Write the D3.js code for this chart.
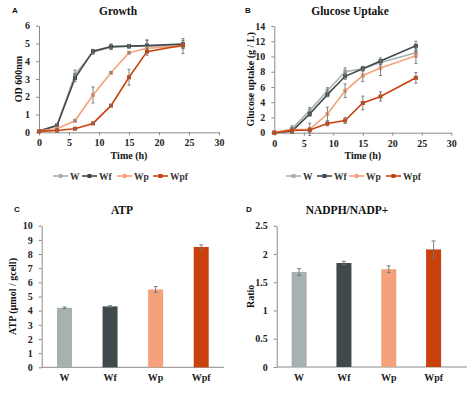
<!DOCTYPE html>
<html>
<head>
<meta charset="utf-8">
<script src="https://cdn.jsdelivr.net/npm/d3@7"></script>
<style>
  body { margin: 0; background: #fff; }
  text { font-family: "Liberation Serif", "Times New Roman", serif; font-weight: bold; }
</style>
</head>
<body>
<script>
var STRAINS = ['W', 'Wf', 'Wp', 'Wpf']
var COLORS = ['#a7b1b1', '#41494d', '#f5a27c', '#c9420e']

var TIME = [0, 3, 6, 9, 12, 15, 18, 24]
var X_TICKS = [0, 5, 10, 15, 20, 25, 30]

// growth, OD 600nm
var GROWTH_W   = [0.07, 0.38, 3.25, 4.50, 4.80, 4.84, 4.87, 4.85]
var GROWTH_WF  = [0.07, 0.38, 3.05, 4.57, 4.82, 4.85, 4.88, 4.97]
var GROWTH_WP  = [0.07, 0.20, 0.65, 2.10, 3.35, 4.48, 4.73, 4.85]
var GROWTH_WPF = [0.05, 0.10, 0.20, 0.50, 1.50, 3.10, 4.54, 4.90]
var GROWTH_ERR_W   = [0.02, 0.05, 0.25, 0.10, 0.15, 0.10, 0.33, 0.42]
var GROWTH_ERR_WF  = [0.02, 0.05, 0.20, 0.10, 0.15, 0.10, 0.30, 0.20]
var GROWTH_ERR_WP  = [0.02, 0.03, 0.05, 0.45, 0.05, 0.05, 0.10, 0.15]
var GROWTH_ERR_WPF = [0.02, 0.03, 0.03, 0.05, 0.05, 0.45, 0.20, 0.15]
var GROWTH_TICKS = [0, 1, 2, 3, 4, 5, 6]

// glucose uptake, g / L
var GLU_W   = [0, 0.50, 2.90, 5.50, 8.00, 8.40, 9.20, 10.50]
var GLU_WF  = [0, 0.20, 2.45, 5.00, 7.40, 8.40, 9.40, 11.40]
var GLU_WP  = [0, 0.40, 0.45, 2.45, 5.50, 7.50, 8.50, 10.10]
var GLU_WPF = [0, 0.30, 0.35, 1.20, 1.60, 3.90, 4.75, 7.20]
var GLU_ERR_W   = [0.05, 0.40, 0.40, 0.40, 0.50, 0.30, 0.30, 0.60]
var GLU_ERR_WF  = [0.05, 0.30, 0.30, 0.30, 0.40, 0.30, 0.40, 0.60]
var GLU_ERR_WP  = [0.05, 0.30, 0.80, 0.90, 0.90, 0.80, 1.00, 1.00]
var GLU_ERR_WPF = [0.05, 0.30, 0.30, 0.30, 0.40, 0.90, 0.60, 0.70]
var GLU_TICKS = [0, 2, 4, 6, 8, 10, 12, 14]

// bars
var ATP = [4.2, 4.3, 5.5, 8.5]
var ATP_ERR = [0.06, 0.05, 0.2, 0.15]
var ATP_TICKS = [0, 1, 2, 3, 4, 5, 6, 7, 8, 9, 10]
var RATIO = [1.68, 1.84, 1.73, 2.08]
var RATIO_ERR = [0.06, 0.03, 0.06, 0.15]
var RATIO_TICKS = [0, 0.5, 1, 1.5, 2, 2.5]

var AXIS_COLOR = '#8a8a8a'
var ERR_COLOR = '#6f7475'
var FONT = '"Liberation Serif", "Times New Roman", serif'

var svg = d3.select('body').append('svg')
  .attr('width', 474).attr('height', 397)

function style_axis(g){
  g.selectAll('path, line').attr('stroke', AXIS_COLOR).attr('stroke-width', 1)
  g.selectAll('text').attr('fill', '#222').attr('font-size', '10px')
    .attr('font-family', FONT).attr('font-weight', 'bold')
}

function label(x, y, txt, size, rotate){
  var t = svg.append('text').attr('x', x).attr('y', y)
    .attr('text-anchor', 'middle').attr('font-size', size).attr('fill', '#111').text(txt)
  if (rotate) t.attr('transform', 'rotate(-90,' + x + ',' + y + ')')
  return t
}

function letter(x, y, txt){
  svg.append('text').attr('x', x).attr('y', y).attr('font-size', '8px')
    .style('font-family', '"Liberation Sans", Arial, sans-serif').attr('fill', '#111').text(txt)
}

function line_panel(opt){
  var x = d3.scaleLinear().domain([0, 30]).range(opt.xr)
  var y = d3.scaleLinear().domain([0, opt.ymax]).range(opt.yr)

  svg.append('g').attr('transform', 'translate(0,' + opt.yr[0] + ')')
    .call(d3.axisBottom(x).tickValues(X_TICKS).tickFormat(d3.format('d')).tickSize(3).tickSizeOuter(0).tickPadding(4))
    .call(style_axis)
  svg.append('g').attr('transform', 'translate(' + opt.xr[0] + ',0)')
    .call(d3.axisLeft(y).tickValues(opt.yticks).tickFormat(d3.format('d')).tickSize(3).tickSizeOuter(0).tickPadding(6))
    .call(style_axis)

  var line = d3.line().x(function(d){ return x(d.t) }).y(function(d){ return y(d.v) })

  opt.series.forEach(function(s, k){
    var pts = TIME.map(function(t, i){ return { t: t, v: s.values[i], e: s.err[i] } })
    var g = svg.append('g')
    g.append('path').datum(pts).attr('d', line).attr('fill', 'none')
      .attr('stroke', COLORS[k]).attr('stroke-width', 1.6)
    g.selectAll('rect.m').data(pts).enter().append('rect')
      .attr('x', function(d){ return x(d.t) - 2 }).attr('y', function(d){ return y(d.v) - 2 })
      .attr('width', 4).attr('height', 4).attr('fill', COLORS[k])
    var eb = g.selectAll('g.e').data(pts).enter().append('g')
    eb.append('line').attr('x1', function(d){ return x(d.t) }).attr('x2', function(d){ return x(d.t) })
      .attr('y1', function(d){ return y(d.v - d.e) }).attr('y2', function(d){ return y(d.v + d.e) })
      .attr('stroke', ERR_COLOR).attr('stroke-width', 0.9)
    ;[-1, 1].forEach(function(sgn){
      eb.append('line').attr('x1', function(d){ return x(d.t) - 1.5 }).attr('x2', function(d){ return x(d.t) + 1.5 })
        .attr('y1', function(d){ return y(d.v + sgn * d.e) }).attr('y2', function(d){ return y(d.v + sgn * d.e) })
        .attr('stroke', ERR_COLOR).attr('stroke-width', 0.9)
    })
  })

  var mid = (opt.xr[0] + opt.xr[1]) / 2
  label(opt.titleX, 15, opt.title, '11.5px')
  label(mid, 159, 'Time (h)', '10px')
  label(opt.ylx, (opt.yr[0] + opt.yr[1]) / 2, opt.ylabel, '10px', true)

  // legend
  var lg = svg.append('g')
  opt.legendX.forEach(function(lx, k){
    lg.append('line').attr('x1', lx).attr('x2', lx + 15).attr('y1', 176).attr('y2', 176)
      .attr('stroke', COLORS[k]).attr('stroke-width', 1.6)
    lg.append('rect').attr('x', lx + 5.5).attr('y', 174).attr('width', 4).attr('height', 4).attr('fill', COLORS[k])
    lg.append('text').attr('x', lx + 17).attr('y', 179.5).attr('font-size', '9.5px').attr('fill', '#333').text(STRAINS[k])
  })
}

function bar_panel(opt){
  var x = d3.scaleBand().domain(STRAINS).range(opt.xr).paddingInner(0).paddingOuter(0)
  var y = d3.scaleLinear().domain([0, opt.ymax]).range(opt.yr)

  svg.append('g').attr('transform', 'translate(' + opt.xr[0] + ',0)')
    .call(d3.axisLeft(y).tickValues(opt.yticks).tickFormat(function(d){ return String(d) })
      .tickSize(3).tickSizeOuter(0).tickPadding(6))
    .call(style_axis)
  var xa = svg.append('g').attr('transform', 'translate(0,' + opt.yr[0] + ')')
    .call(d3.axisBottom(x).tickSize(0).tickPadding(7))
    .call(style_axis)
  xa.select('path.domain').attr('d', 'M' + opt.xr[0] + ',0H' + opt.axisEnd)

  var bw = 15
  svg.selectAll(null).data(opt.values).enter().append('rect')
    .attr('x', function(d, i){ return x(STRAINS[i]) + x.bandwidth() / 2 - bw / 2 })
    .attr('y', function(d){ return y(d) })
    .attr('width', bw)
    .attr('height', function(d){ return y(0) - y(d) })
    .attr('fill', function(d, i){ return COLORS[i] })

  opt.values.forEach(function(v, i){
    var cx = x(STRAINS[i]) + x.bandwidth() / 2, e = opt.err[i]
    svg.append('line').attr('x1', cx).attr('x2', cx).attr('y1', y(v - e)).attr('y2', y(v + e))
      .attr('stroke', ERR_COLOR).attr('stroke-width', 0.9)
    ;[-1, 1].forEach(function(sgn){
      svg.append('line').attr('x1', cx - 2).attr('x2', cx + 2).attr('y1', y(v + sgn * e)).attr('y2', y(v + sgn * e))
        .attr('stroke', ERR_COLOR).attr('stroke-width', 0.9)
    })
  })

  label(opt.titleX, 214, opt.title, '11.5px')
  label(opt.ylx, (opt.yr[0] + opt.yr[1]) / 2, opt.ylabel, '10px', true)
}

line_panel({
  xr: [39, 219], yr: [132.3, 25.7], ymax: 6, yticks: GROWTH_TICKS,
  title: 'Growth', titleX: 118, ylabel: 'OD 600nm', ylx: 22,
  legendX: [53, 82, 117, 153],
  series: [
    { values: GROWTH_W, err: GROWTH_ERR_W },
    { values: GROWTH_WF, err: GROWTH_ERR_WF },
    { values: GROWTH_WP, err: GROWTH_ERR_WP },
    { values: GROWTH_WPF, err: GROWTH_ERR_WPF }
  ]
})

line_panel({
  xr: [274.3, 451.3], yr: [132.7, 26], ymax: 14, yticks: GLU_TICKS,
  title: 'Glucose Uptake', titleX: 350, ylabel: 'Glucose uptake (g / L)', ylx: 254,
  legendX: [286, 317, 349, 386],
  series: [
    { values: GLU_W, err: GLU_ERR_W },
    { values: GLU_WF, err: GLU_ERR_WF },
    { values: GLU_WP, err: GLU_ERR_WP },
    { values: GLU_WPF, err: GLU_ERR_WPF }
  ]
})

bar_panel({
  xr: [41.7, 224], axisEnd: 224, yr: [367.3, 225.7], ymax: 10, yticks: ATP_TICKS,
  values: ATP, err: ATP_ERR, title: 'ATP', titleX: 122, ylabel: 'ATP (µmol / gcell)', ylx: 16
})

bar_panel({
  xr: [276.7, 456], axisEnd: 467, yr: [367, 225.7], ymax: 2.5, yticks: RATIO_TICKS,
  values: RATIO, err: RATIO_ERR, title: 'NADPH/NADP+', titleX: 347, ylabel: 'Ratio', ylx: 254
})

letter(12, 13, 'A')
letter(245, 13, 'B')
letter(14, 212, 'C')
letter(246, 212, 'D')
</script>
</body>
</html>
